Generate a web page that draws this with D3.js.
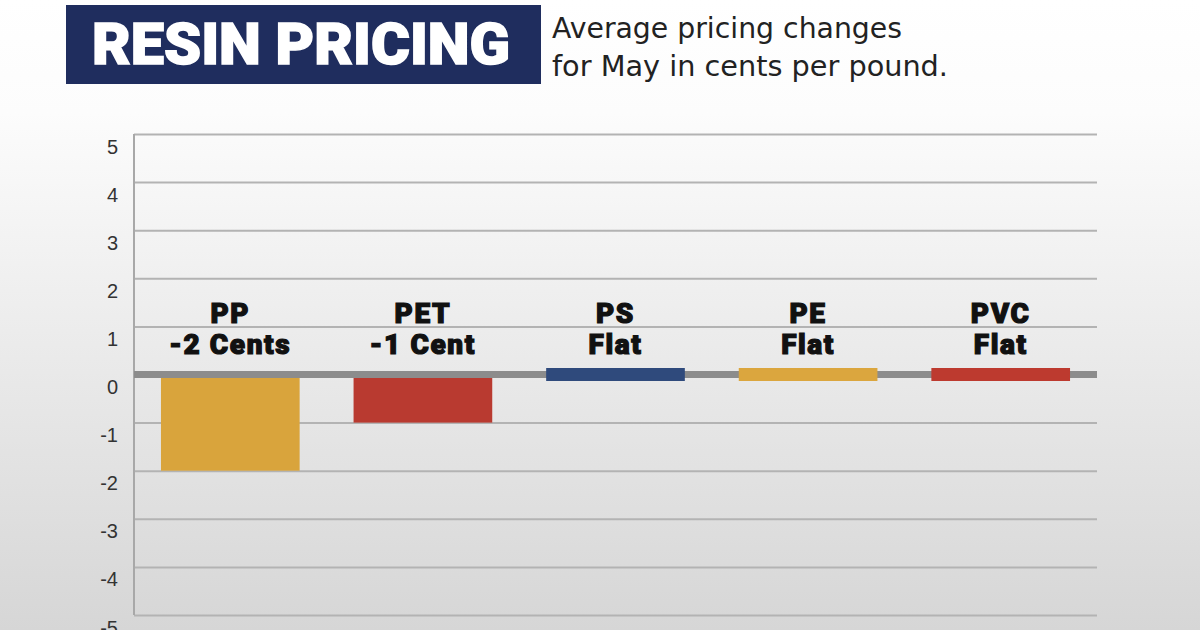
<!DOCTYPE html>
<html>
<head>
<meta charset="utf-8">
<script src="https://cdn.jsdelivr.net/npm/d3@7"></script>
<style>
  body { margin: 0; padding: 0; }
  svg { display: block; }
</style>
</head>
<body>
<svg id="chart"></svg>
<script>
// Chart data
const resins = ["PP", "PET", "PS", "PE", "PVC"];
const changes = [-2, -1, 0, 0, 0];
const changeLabels = ["-2 Cents", "-1 Cent", "Flat", "Flat", "Flat"];
const barColors = ["#d9a43c", "#b93a30", "#2f4a7c", "#dba63e", "#bd3a2f"];
const yTicks = [5, 4, 3, 2, 1, 0, -1, -2, -3, -4, -5];

const W = 1200, H = 630;
const margin = { top: 134, right: 103, bottom: 15, left: 134 };
const width = W - margin.left - margin.right;
const height = H - margin.top - margin.bottom;

const svg = d3.select("#chart")
  .attr("width", W)
  .attr("height", H);

// Background gradient
const defs = svg.append("defs");
const grad = defs.append("linearGradient")
  .attr("id", "bg")
  .attr("x1", 0).attr("y1", 0).attr("x2", 0).attr("y2", 1);
grad.append("stop").attr("offset", "0%").attr("stop-color", "#ffffff");
grad.append("stop").attr("offset", "18%").attr("stop-color", "#fcfcfc");
grad.append("stop").attr("offset", "100%").attr("stop-color", "#d6d6d6");

svg.append("rect")
  .attr("width", W)
  .attr("height", H)
  .attr("fill", "url(#bg)");

// Title box
svg.append("rect")
  .attr("x", 66).attr("y", 5)
  .attr("width", 475).attr("height", 79)
  .attr("fill", "#1f2d5e");

svg.append("text")
  .attr("x", 301).attr("y", 64)
  .attr("text-anchor", "middle")
  .attr("fill", "#ffffff")
  .attr("stroke", "#ffffff")
  .attr("stroke-width", 1.5)
  .style("font-family", "Roboto, 'Liberation Sans', sans-serif")
  .style("font-weight", 900)
  .style("font-size", "57px")
  .attr("textLength", 418)
  .attr("lengthAdjust", "spacingAndGlyphs")
  .text("RESIN PRICING");

// Subtitle
svg.append("text")
  .attr("x", 552).attr("y", 38)
  .attr("fill", "#222")
  .style("font-family", "'DejaVu Sans', sans-serif")
  .style("font-size", "28px")
  .attr("textLength", 350)
  .attr("lengthAdjust", "spacingAndGlyphs")
  .text("Average pricing changes");

svg.append("text")
  .attr("x", 552).attr("y", 76)
  .attr("fill", "#222")
  .style("font-family", "'DejaVu Sans', sans-serif")
  .style("font-size", "28px")
  .attr("textLength", 396)
  .attr("lengthAdjust", "spacingAndGlyphs")
  .text("for May in cents per pound.");

const g = svg.append("g")
  .attr("transform", "translate(" + margin.left + "," + margin.top + ")");

// Scales
const x = d3.scaleBand()
  .domain(resins)
  .range([0, width])
  .paddingInner(0.28)
  .paddingOuter(0.14);

const y = d3.scaleLinear()
  .domain([-5, 5])
  .range([height, 0]);

// Grid lines
g.append("g")
  .attr("class", "grid")
  .call(d3.axisLeft(y).tickValues(yTicks).tickSize(-width).tickFormat(""))
  .call(a => a.select(".domain").remove())
  .call(a => a.selectAll("line")
    .attr("stroke", "#b3b3b3")
    .attr("stroke-width", 2));

// Left axis line
g.append("line")
  .attr("x1", 0).attr("x2", 0)
  .attr("y1", y(5)).attr("y2", y(-5))
  .attr("stroke", "#a8a8a8")
  .attr("stroke-width", 2);

// Y tick labels (sit a little below each grid line, as in the original)
g.append("g")
  .call(d3.axisLeft(y).tickValues(yTicks).tickSize(0).tickPadding(16).tickFormat(d => String(d)))
  .call(a => a.select(".domain").remove())
  .call(a => a.selectAll("text")
    .attr("dy", "0.95em")
    .attr("fill", "#333")
    .style("font-family", "'Liberation Sans', Arial, sans-serif")
    .style("font-size", "20px"));

// Zero line
g.append("line")
  .attr("x1", 0).attr("x2", width)
  .attr("y1", y(0)).attr("y2", y(0))
  .attr("stroke", "#8c8c8c")
  .attr("stroke-width", 7);

// Bars (flat values get a thin bar on the zero line)
const flatHalf = 6.5;
const data = resins.map((r, i) => ({ r, v: changes[i], label: changeLabels[i], color: barColors[i] }));

g.selectAll("rect.bar")
  .data(data)
  .enter().append("rect")
  .attr("class", "bar")
  .attr("x", d => x(d.r))
  .attr("width", x.bandwidth())
  .attr("y", d => d.v === 0 ? y(0) - flatHalf : y(0) + 3.5)
  .attr("height", d => d.v === 0 ? flatHalf * 2 : y(d.v) - y(0) - 3.5)
  .attr("fill", d => d.color);

// Bar labels: name on top line, change below
function addLabelLine(cls, text, dy) {
  g.selectAll("text." + cls)
    .data(data)
    .enter().append("text")
    .attr("class", cls)
    .attr("x", d => x(d.r) + x.bandwidth() / 2)
    .attr("y", y(1) + dy)
    .attr("text-anchor", "middle")
    .attr("fill", "#111")
    .attr("stroke", "#111")
    .attr("stroke-width", 1.2)
    .style("font-family", "Roboto, 'Liberation Sans', sans-serif")
    .style("font-weight", 900)
    .style("font-size", "28px")
    .style("letter-spacing", "1.6px")
    .text(text);
}
addLabelLine("lbl-name", d => d.r, -3);
addLabelLine("lbl-change", d => d.label, 28);
</script>
</body>
</html>
